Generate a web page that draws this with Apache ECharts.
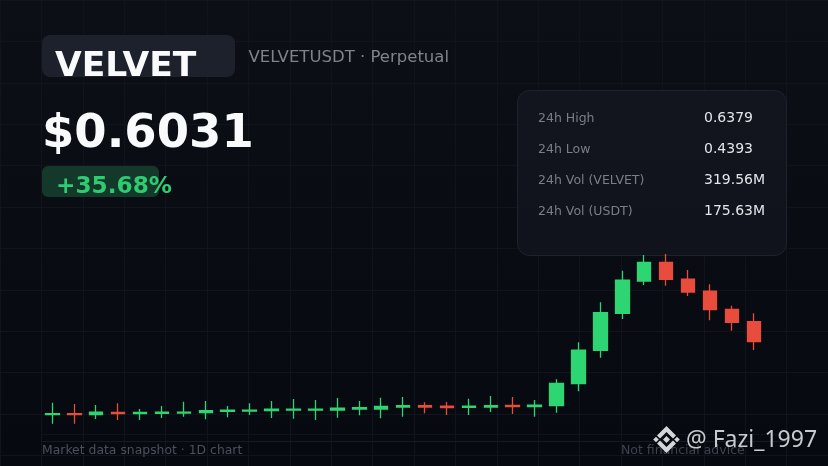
<!DOCTYPE html>
<html><head><meta charset="utf-8">
<style>html,body{margin:0;padding:0;background:#0a0d14}#c{width:828px;height:466px}</style>
<script src="https://cdn.jsdelivr.net/npm/echarts@6/dist/echarts.min.js"></script>
</head><body><div id="c"></div>
<script>
// [open, close, low, high]
var candleValues = [
[.166,.172,.111,.237],[.172,.165,.111,.229],[.165,.181,.139,.223],[.179,.171,.133,.233],
[.171,.179,.133,.199],[.173,.181,.145,.217],[.175,.181,.153,.243],[.177,.189,.137,.247],
[.185,.193,.149,.217],[.187,.193,.163,.233],[.189,.199,.145,.247],[.193,.199,.141,.259],
[.193,.199,.133,.253],[.193,.205,.147,.265],[.199,.207,.161,.247],[.199,.215,.143,.267],
[.211,.219,.153,.271],[.219,.211,.173,.239],[.217,.207,.163,.241],[.209,.217,.163,.261],
[.211,.219,.181,.277],[.221,.213,.169,.271],[.213,.223,.153,.253],[.219,.353,.177,.377],
[.351,.553,.305,.599],[.551,.777,.507,.839],[.773,.973,.739,1.029],[.967,1.079,.943,1.123],
[1.079,.977,.939,1.129],[.979,.901,.877,1.033],[.907,.795,.731,.947],[.797,.719,.669,.819],
[.723,.603,.553,.773]];
var categories = candleValues.map(function(_,i){return 'D'+(i+1);});
var symbol='VELVET', pair='VELVETUSDT · Perpetual', price='$0.6031', change='+35.68%';
var statLabels=['24h High','24h Low','24h Vol (VELVET)','24h Vol (USDT)'];
var statValues=['0.6379','0.4393','319.56M','175.63M'];
var footLeft='Market data snapshot · 1D chart', footRight='Not financial advice', mark='@ Fazi_1997';
var GREEN='#2ed573', RED='#e74c3c', FONT='"DejaVu Sans"';
function T(x,y,text,size,fill,weight,family){
  return {type:'text',z:20,style:{text:text,x:x,y:y,fill:fill,font:(weight||'normal')+' '+size+'px '+(family||FONT),textVerticalAlign:'middle'}};
}
function poly(pts,fill){return {type:'polygon',z:20,shape:{points:pts},style:{fill:fill}};}
var LOGO='#d4d6d8';
var g=[
 {type:'rect',z:1,shape:{x:42,y:35,width:193,height:42,r:8},style:{fill:'#1d212c'}},
 {type:'rect',z:1,shape:{x:42,y:166,width:117,height:31,r:6},style:{fill:'#14382a'}},
 {type:'rect',z:1,shape:{x:517.5,y:90.5,width:269,height:165,r:12},style:{fill:new echarts.graphic.LinearGradient(0,0,0,1,[{offset:0,color:'#12151e'},{offset:1,color:'#10131b'}]),stroke:'#1e222c',lineWidth:1}},
 {type:'line',z:1,shape:{x1:41,y1:434.5,x2:787,y2:434.5},style:{stroke:'#10131b',lineWidth:1}},
 {type:'line',z:1,shape:{x1:41,y1:441.5,x2:787,y2:441.5},style:{stroke:'#161a23',lineWidth:1}},
 T(55,67,symbol,34.5,'#f8fafc','bold'),
 T(248.5,57.5,pair,16.5,'#7f838d'),
 T(42,134.5,price,46.5,'#f8fafc','bold'),
 T(56,186.5,change,23.2,'#2ecc71','bold'),
 T(42,451,footLeft,12.4,'#4c505b'),
 T(621,451,footRight,12.5,'#3f434e'),
 T(686,440,mark,23,'#c8cacd','normal','"Noto Sans"'),
 poly([[666.5,426],[676,435.5],[673,438.5],[666.5,432],[660,438.5],[657,435.5]],LOGO),
 poly([[666.5,453],[676,443.5],[673,440.5],[666.5,447],[660,440.5],[657,443.5]],LOGO),
 poly([[666.5,436],[670,439.5],[666.5,443],[663,439.5]],LOGO),
 poly([[656,436.7],[658.8,439.5],[656,442.3],[653.2,439.5]],LOGO),
 poly([[677,436.7],[679.8,439.5],[677,442.3],[674.2,439.5]],LOGO)
];
statLabels.forEach(function(l,i){
 g.push(T(538,119+i*31,l,12.5,'#7a7e88'));
 g.push(T(704,118+i*31,statValues[i],14,'#e2e5ea'));
});
var chart=echarts.init(document.getElementById('c'),null,{renderer:'canvas'});
var GL={show:true,lineStyle:{color:'#11141d',width:1}};
chart.setOption({
 animation:false,
 backgroundColor:new echarts.graphic.LinearGradient(0,0,0,1,[{offset:0,color:'#0c0f16'},{offset:1,color:'#060910'}]),
 grid:[
  {left:0,right:0,top:0,bottom:0,z:0},
  {left:41.4,top:242.2,width:723.4,height:200,z:3}
 ],
 xAxis:[
  {gridIndex:0,type:'value',min:0,max:828,interval:41.4,axisLine:{show:false},axisTick:{show:false},axisLabel:{show:false},splitLine:GL},
  {gridIndex:1,type:'category',data:categories,axisLine:{show:false},axisTick:{show:false},axisLabel:{show:false},splitLine:{show:false}}
 ],
 yAxis:[
  {gridIndex:0,type:'value',inverse:true,min:0,max:466,interval:41.4,axisLine:{show:false},axisTick:{show:false},axisLabel:{show:false},splitLine:GL},
  {gridIndex:1,type:'value',min:0,max:1.2,interval:0.2,axisLine:{show:false},axisTick:{show:false},axisLabel:{show:false},splitLine:{show:false}}
 ],
 series:[{
  type:'candlestick',xAxisIndex:1,yAxisIndex:1,data:candleValues,barWidth:14,z:10,
  itemStyle:{color:GREEN,color0:RED,borderColor:GREEN,borderColor0:RED,borderWidth:1.3}
 }],
 graphic:g
});
</script></body></html>
